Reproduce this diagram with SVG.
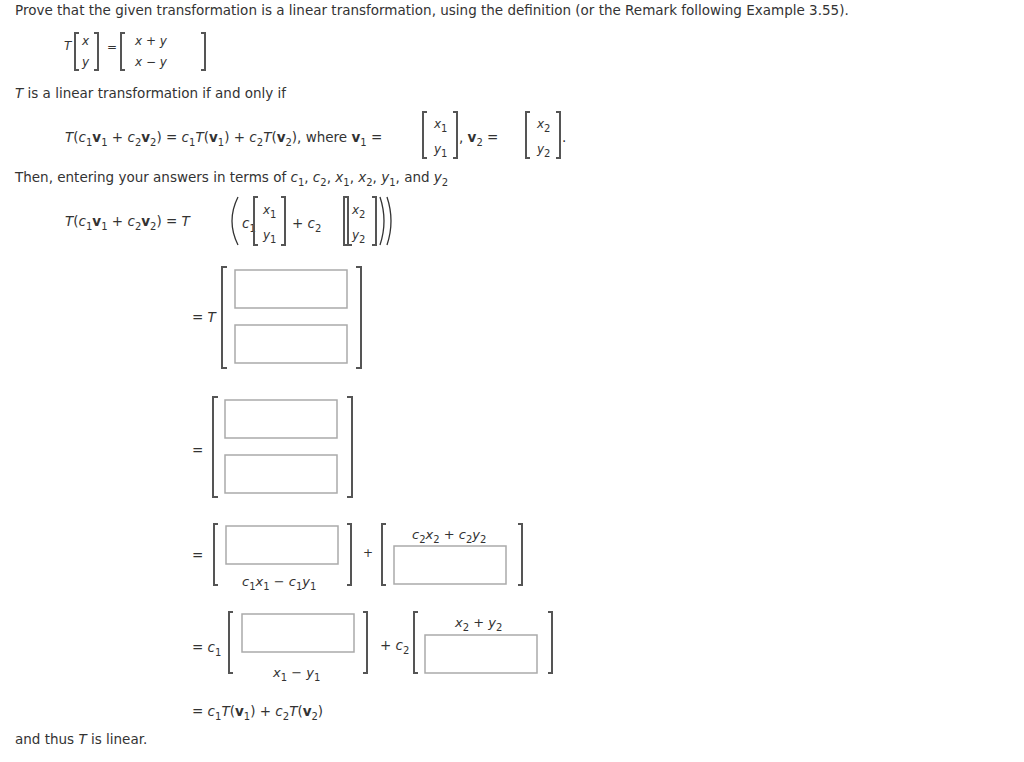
<svg xmlns="http://www.w3.org/2000/svg" width="1024" height="762" viewBox="0 0 1024 762">
<style>
text{font-family:"DejaVu Sans",Verdana,sans-serif;font-size:13.5px;fill:#333}
.m{font-size:13px}
.s{font-size:12px}
.i{font-style:italic}
.b{font-weight:bold}
.br{fill:none;stroke:#555;stroke-width:2}
.bx{fill:#fff;stroke:#aaa;stroke-width:1.5}
</style>
<rect width="1024" height="762" fill="#fff"/>
<text x="15" y="15">Prove that the given transformation is a linear transformation, using the definition (or the Remark following Example 3.55).</text>
<!-- T[x;y]=[x+y;x-y] -->
<text x="64" y="50" class="i s">T</text>
<path class="br" d="M79,33h-4v37h4M94,33h4v37h-4M125,33h-4v37h4M201,33h4v37h-4"/>
<text x="82" y="45" class="i s">x</text>
<text x="82" y="66" class="i s">y</text>
<text x="107" y="51" class="s">=</text>
<text x="135" y="45" class="s"><tspan class="i">x</tspan> + <tspan class="i">y</tspan></text>
<text x="135" y="66" class="s"><tspan class="i">x</tspan> − <tspan class="i">y</tspan></text>
<text x="15" y="98"><tspan class="i">T</tspan> is a linear transformation if and only if</text>
<text x="65" y="142"><tspan class="i">T</tspan>(<tspan class="i">c</tspan><tspan dy="4" font-size="10">1</tspan><tspan dy="-4" class="b">v</tspan><tspan dy="4" font-size="10">1</tspan><tspan dy="-4"> + </tspan><tspan class="i">c</tspan><tspan dy="4" font-size="10">2</tspan><tspan dy="-4" class="b">v</tspan><tspan dy="4" font-size="10">2</tspan><tspan dy="-4">) = </tspan><tspan class="i">c</tspan><tspan dy="4" font-size="10">1</tspan><tspan dy="-4" class="i">T</tspan>(<tspan class="b">v</tspan><tspan dy="4" font-size="10">1</tspan><tspan dy="-4">) + </tspan><tspan class="i">c</tspan><tspan dy="4" font-size="10">2</tspan><tspan dy="-4" class="i">T</tspan>(<tspan class="b">v</tspan><tspan dy="4" font-size="10">2</tspan><tspan dy="-4">),  where </tspan><tspan class="b">v</tspan><tspan dy="4" font-size="10">1</tspan><tspan dy="-4"> =</tspan></text>
<path class="br" d="M427,112h-4v46h4M453,112h4v46h-4M530,112h-4v46h4M556,112h4v46h-4"/>
<text x="434" y="128" class="s"><tspan class="i">x</tspan><tspan dy="4" font-size="10">1</tspan></text>
<text x="434" y="153" class="s"><tspan class="i">y</tspan><tspan dy="4" font-size="10">1</tspan></text>
<text x="459" y="142">, <tspan class="b">v</tspan><tspan dy="4" font-size="10">2</tspan><tspan dy="-4"> =</tspan></text>
<text x="537" y="128" class="s"><tspan class="i">x</tspan><tspan dy="4" font-size="10">2</tspan></text>
<text x="537" y="153" class="s"><tspan class="i">y</tspan><tspan dy="4" font-size="10">2</tspan></text>
<text x="562" y="142">.</text>
<text x="15" y="182">Then, entering your answers in terms of <tspan class="i">c</tspan><tspan dy="4" font-size="10">1</tspan><tspan dy="-4">, </tspan><tspan class="i">c</tspan><tspan dy="4" font-size="10">2</tspan><tspan dy="-4">, </tspan><tspan class="i">x</tspan><tspan dy="4" font-size="10">1</tspan><tspan dy="-4">, </tspan><tspan class="i">x</tspan><tspan dy="4" font-size="10">2</tspan><tspan dy="-4">, </tspan><tspan class="i">y</tspan><tspan dy="4" font-size="10">1</tspan><tspan dy="-4">, and </tspan><tspan class="i">y</tspan><tspan dy="4" font-size="10">2</tspan></text>
<!-- T(c1v1+c2v2) = T(c1[..]+c2[..]) -->
<text x="65" y="226"><tspan class="i">T</tspan>(<tspan class="i">c</tspan><tspan dy="4" font-size="10">1</tspan><tspan dy="-4" class="b">v</tspan><tspan dy="4" font-size="10">1</tspan><tspan dy="-4"> + </tspan><tspan class="i">c</tspan><tspan dy="4" font-size="10">2</tspan><tspan dy="-4" class="b">v</tspan><tspan dy="4" font-size="10">2</tspan><tspan dy="-4">)  =  </tspan><tspan class="i">T</tspan></text>
<path d="M238,197q-12,24 0,48" fill="none" stroke="#333" stroke-width="1.3"/>
<text x="242" y="228" class="i">c<tspan dy="4" font-size="10" font-style="normal">1</tspan></text>
<path class="br" d="M258,197h-4v48h4M281,197h4v48h-4M344,197h4v48h4M372,197h4v48h-4" transform=""/>
<path class="br" d="M348,197h-4v48h4" />
<text x="263" y="214" class="s"><tspan class="i">x</tspan><tspan dy="4" font-size="10">1</tspan></text>
<text x="263" y="239" class="s"><tspan class="i">y</tspan><tspan dy="4" font-size="10">1</tspan></text>
<text x="292" y="228">+ <tspan class="i">c</tspan><tspan dy="4" font-size="10">2</tspan></text>
<text x="352" y="214" class="s"><tspan class="i">x</tspan><tspan dy="4" font-size="10">2</tspan></text>
<text x="352" y="239" class="s"><tspan class="i">y</tspan><tspan dy="4" font-size="10">2</tspan></text>
<path d="M380,197q8,24 0,48M387,197q8,24 0,48" fill="none" stroke="#333" stroke-width="1.3"/>
<!-- = T [ box ; box ] -->
<text x="192" y="322">= <tspan class="i">T</tspan></text>
<path class="br" d="M227,267h-5v101h5M356,267h5v101h-5"/>
<rect class="bx" x="235" y="270" width="112" height="38"/>
<rect class="bx" x="235" y="325" width="112" height="38"/>
<!-- = [box;box] -->
<text x="192" y="455">=</text>
<path class="br" d="M218,397h-5v100h5M347,397h5v100h-5"/>
<rect class="bx" x="225" y="400" width="112" height="38"/>
<rect class="bx" x="225" y="455" width="112" height="38"/>
<!-- = [box; c1x1-c1y1] + [c2x2+c2y2; box] -->
<text x="192" y="560">=</text>
<path class="br" d="M218,524h-4v61h4M347,524h4v61h-4"/>
<rect class="bx" x="226" y="526" width="112" height="38"/>
<text x="242" y="586" class="m"><tspan class="i">c</tspan><tspan dy="4" font-size="10">1</tspan><tspan dy="-4" class="i">x</tspan><tspan dy="4" font-size="10">1</tspan><tspan dy="-4"> − </tspan><tspan class="i">c</tspan><tspan dy="4" font-size="10">1</tspan><tspan dy="-4" class="i">y</tspan><tspan dy="4" font-size="10">1</tspan></text>
<text x="363" y="557" class="s">+</text>
<path class="br" d="M386,524h-4v61h4M518,524h4v61h-4"/>
<text x="412" y="539" class="m"><tspan class="i">c</tspan><tspan dy="4" font-size="10">2</tspan><tspan dy="-4" class="i">x</tspan><tspan dy="4" font-size="10">2</tspan><tspan dy="-4"> + </tspan><tspan class="i">c</tspan><tspan dy="4" font-size="10">2</tspan><tspan dy="-4" class="i">y</tspan><tspan dy="4" font-size="10">2</tspan></text>
<rect class="bx" x="394" y="546" width="112" height="38"/>
<!-- = c1[box; x1-y1] + c2[x2+y2; box] -->
<text x="192" y="652">=  <tspan class="i">c</tspan><tspan dy="4" font-size="10">1</tspan></text>
<path class="br" d="M233,612h-4v61h4M363,612h4v61h-4"/>
<rect class="bx" x="242" y="614" width="112" height="38"/>
<text x="273" y="677" class="m"><tspan class="i">x</tspan><tspan dy="4" font-size="10">1</tspan><tspan dy="-4"> − </tspan><tspan class="i">y</tspan><tspan dy="4" font-size="10">1</tspan></text>
<text x="380" y="650">+ <tspan class="i">c</tspan><tspan dy="4" font-size="10">2</tspan></text>
<path class="br" d="M418,612h-4v61h4M548,612h4v61h-4"/>
<text x="455" y="627" class="m"><tspan class="i">x</tspan><tspan dy="4" font-size="10">2</tspan><tspan dy="-4"> + </tspan><tspan class="i">y</tspan><tspan dy="4" font-size="10">2</tspan></text>
<rect class="bx" x="425" y="635" width="112" height="38"/>
<text x="192" y="716">=  <tspan class="i">c</tspan><tspan dy="4" font-size="10">1</tspan><tspan dy="-4" class="i">T</tspan>(<tspan class="b">v</tspan><tspan dy="4" font-size="10">1</tspan><tspan dy="-4">) + </tspan><tspan class="i">c</tspan><tspan dy="4" font-size="10">2</tspan><tspan dy="-4" class="i">T</tspan>(<tspan class="b">v</tspan><tspan dy="4" font-size="10">2</tspan><tspan dy="-4">)</tspan></text>
<text x="15" y="744">and thus <tspan class="i">T</tspan> is linear.</text>
</svg>
